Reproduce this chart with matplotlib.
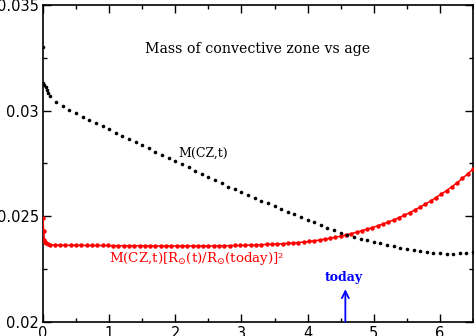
import matplotlib
matplotlib.use("Agg")
import matplotlib.pyplot as plt
from matplotlib.ticker import MultipleLocator

# ---- data ----
black_t = [0.0, 0.0, 0.02, 0.04, 0.06, 0.08, 0.10, 0.2, 0.3, 0.4, 0.5, 0.6, 0.7, 0.8, 0.9,
           1.0, 1.1, 1.2, 1.3, 1.4, 1.5, 1.6, 1.7, 1.8, 1.9, 2.0, 2.1, 2.2, 2.3, 2.4,
           2.5, 2.6, 2.7, 2.8, 2.9, 3.0, 3.1, 3.2, 3.3, 3.4, 3.5, 3.6, 3.7, 3.8, 3.9,
           4.0, 4.1, 4.2, 4.3, 4.4, 4.5, 4.6, 4.7, 4.8, 4.9, 5.0, 5.1, 5.2, 5.3, 5.4,
           5.5, 5.6, 5.7, 5.8, 5.9, 6.0, 6.1, 6.2, 6.3, 6.4, 6.5]
black_m = [0.0330, 0.0313, 0.03122, 0.0311, 0.03098, 0.03085, 0.0307, 0.0304, 0.0302,
           0.03004, 0.02988, 0.02971, 0.02956, 0.02941, 0.02926, 0.02911, 0.02896,
           0.02881, 0.02866, 0.02851, 0.02836, 0.02821, 0.02806, 0.02791, 0.02776,
           0.02761, 0.02746, 0.02731, 0.02716, 0.02701, 0.02686, 0.02671, 0.02656,
           0.02641, 0.02627, 0.02613, 0.02600, 0.02587, 0.02574, 0.02561, 0.02548,
           0.02535, 0.02522, 0.02509, 0.02496, 0.02484, 0.02471, 0.02458, 0.02446,
           0.02433, 0.02421, 0.02410, 0.02402, 0.02394, 0.02387, 0.02380, 0.02373,
           0.02366, 0.02359, 0.02352, 0.02346, 0.02340, 0.02335, 0.02330, 0.02327,
           0.02325, 0.02324, 0.02324, 0.02325, 0.02327, 0.02330]

red_t = [0.0, 0.01, 0.02, 0.03, 0.05, 0.07,
         0.10, 0.18, 0.26, 0.34, 0.42, 0.50, 0.58, 0.66, 0.74, 0.82, 0.90, 0.98, 1.06,
         1.14, 1.22, 1.30, 1.38, 1.46, 1.54, 1.62, 1.70, 1.78, 1.86, 1.94, 2.02, 2.10,
         2.18, 2.26, 2.34, 2.42, 2.50, 2.58, 2.66, 2.74, 2.82, 2.90, 2.98, 3.06, 3.14,
         3.22, 3.30, 3.38, 3.46, 3.54, 3.62, 3.70, 3.78, 3.86, 3.94, 4.02, 4.10, 4.18,
         4.26, 4.34, 4.42, 4.50, 4.58, 4.66, 4.74, 4.82, 4.90, 4.98, 5.06, 5.14, 5.22,
         5.30, 5.38, 5.46, 5.54, 5.62, 5.70, 5.78, 5.86, 5.94, 6.02, 6.10, 6.18, 6.26,
         6.34, 6.42, 6.50]
red_m = [0.0249, 0.0243, 0.0239, 0.02378, 0.02372, 0.02368,
         0.02365, 0.02364, 0.02364, 0.02363, 0.02363, 0.02363, 0.02363, 0.02362,
         0.02362, 0.02362, 0.02362, 0.02362, 0.02361, 0.02361, 0.02361, 0.02361,
         0.02361, 0.02361, 0.02361, 0.02360, 0.02360, 0.02360, 0.02360, 0.02360,
         0.02360, 0.02360, 0.02360, 0.02360, 0.02360, 0.02360, 0.02360, 0.02360,
         0.02361, 0.02361, 0.02361, 0.02362, 0.02362, 0.02363, 0.02364, 0.02365,
         0.02366, 0.02367, 0.02368, 0.02369, 0.02370, 0.02372, 0.02374, 0.02376,
         0.02378, 0.02381, 0.02384, 0.02388, 0.02392, 0.02396, 0.02401, 0.02406,
         0.02412, 0.02418, 0.02425, 0.02432, 0.02439, 0.02447, 0.02455, 0.02464,
         0.02473, 0.02483, 0.02494, 0.02505, 0.02517, 0.02530, 0.02544, 0.02558,
         0.02573, 0.02589, 0.02605, 0.02622, 0.02640, 0.02659, 0.02680, 0.02701,
         0.02723]

today_age = 4.57
title_text = "Mass of convective zone vs age"
black_label = "M(CZ,t)"
red_label = r"M(CZ,t)[R$_{\odot}$(t)/R$_{\odot}$(today)]²"
today_label = "today"

# ---- figure ----
plt.rcParams['mathtext.fontset'] = 'dejavuserif'
fig = plt.figure(figsize=(4.74, 3.36), dpi=100)
ax = fig.add_axes([0.0907, 0.0417, 0.9073, 0.9435])

ax.plot(red_t, red_m, color='#ff0000', lw=1.1, marker='o', ms=3.2, mew=0, zorder=3)
ax.plot(black_t, black_m, ls='none', color='black', marker='o', ms=2.6, mew=0, zorder=4)

ax.set_xlim(0, 6.5)
ax.set_ylim(0.02, 0.035)
ax.xaxis.set_major_locator(MultipleLocator(1))
ax.xaxis.set_minor_locator(MultipleLocator(0.5))
ax.yaxis.set_major_locator(MultipleLocator(0.005))
ax.yaxis.set_minor_locator(MultipleLocator(0.0025))
ax.set_yticks([0.02, 0.025, 0.03, 0.035])
ax.set_yticklabels(["0.02", "0.025", "0.03", "0.035"])
ax.tick_params(which='both', direction='in', top=True, right=True, width=1.0,
               labelsize=10.5, colors='black')
ax.tick_params(which='major', length=6, pad=3)
ax.tick_params(which='minor', length=3)
for s in ax.spines.values():
    s.set_linewidth(1.2)

serif = 'DejaVu Serif'
ax.text(3.25, 0.0329, title_text, fontsize=10.2, family=serif, ha='center', va='center')
ax.text(2.42, 0.02800, black_label, fontsize=9, family=serif, ha='center', va='center')
ax.text(1.0, 0.02301, red_label, fontsize=9.6, family=serif, ha='left', va='center',
        color='#ff0000')
ax.text(4.55, 0.02212, today_label, fontsize=9, family=serif, ha='center', va='center',
        color='#0000ff', fontweight='bold')
ax.annotate('', xy=(today_age, 0.02155), xytext=(today_age, 0.0200),
            arrowprops=dict(arrowstyle='->,head_length=0.5,head_width=0.25',
                            color='#0000ff', lw=1.3, shrinkA=0, shrinkB=0))

fig.savefig('out.png', dpi=100)
